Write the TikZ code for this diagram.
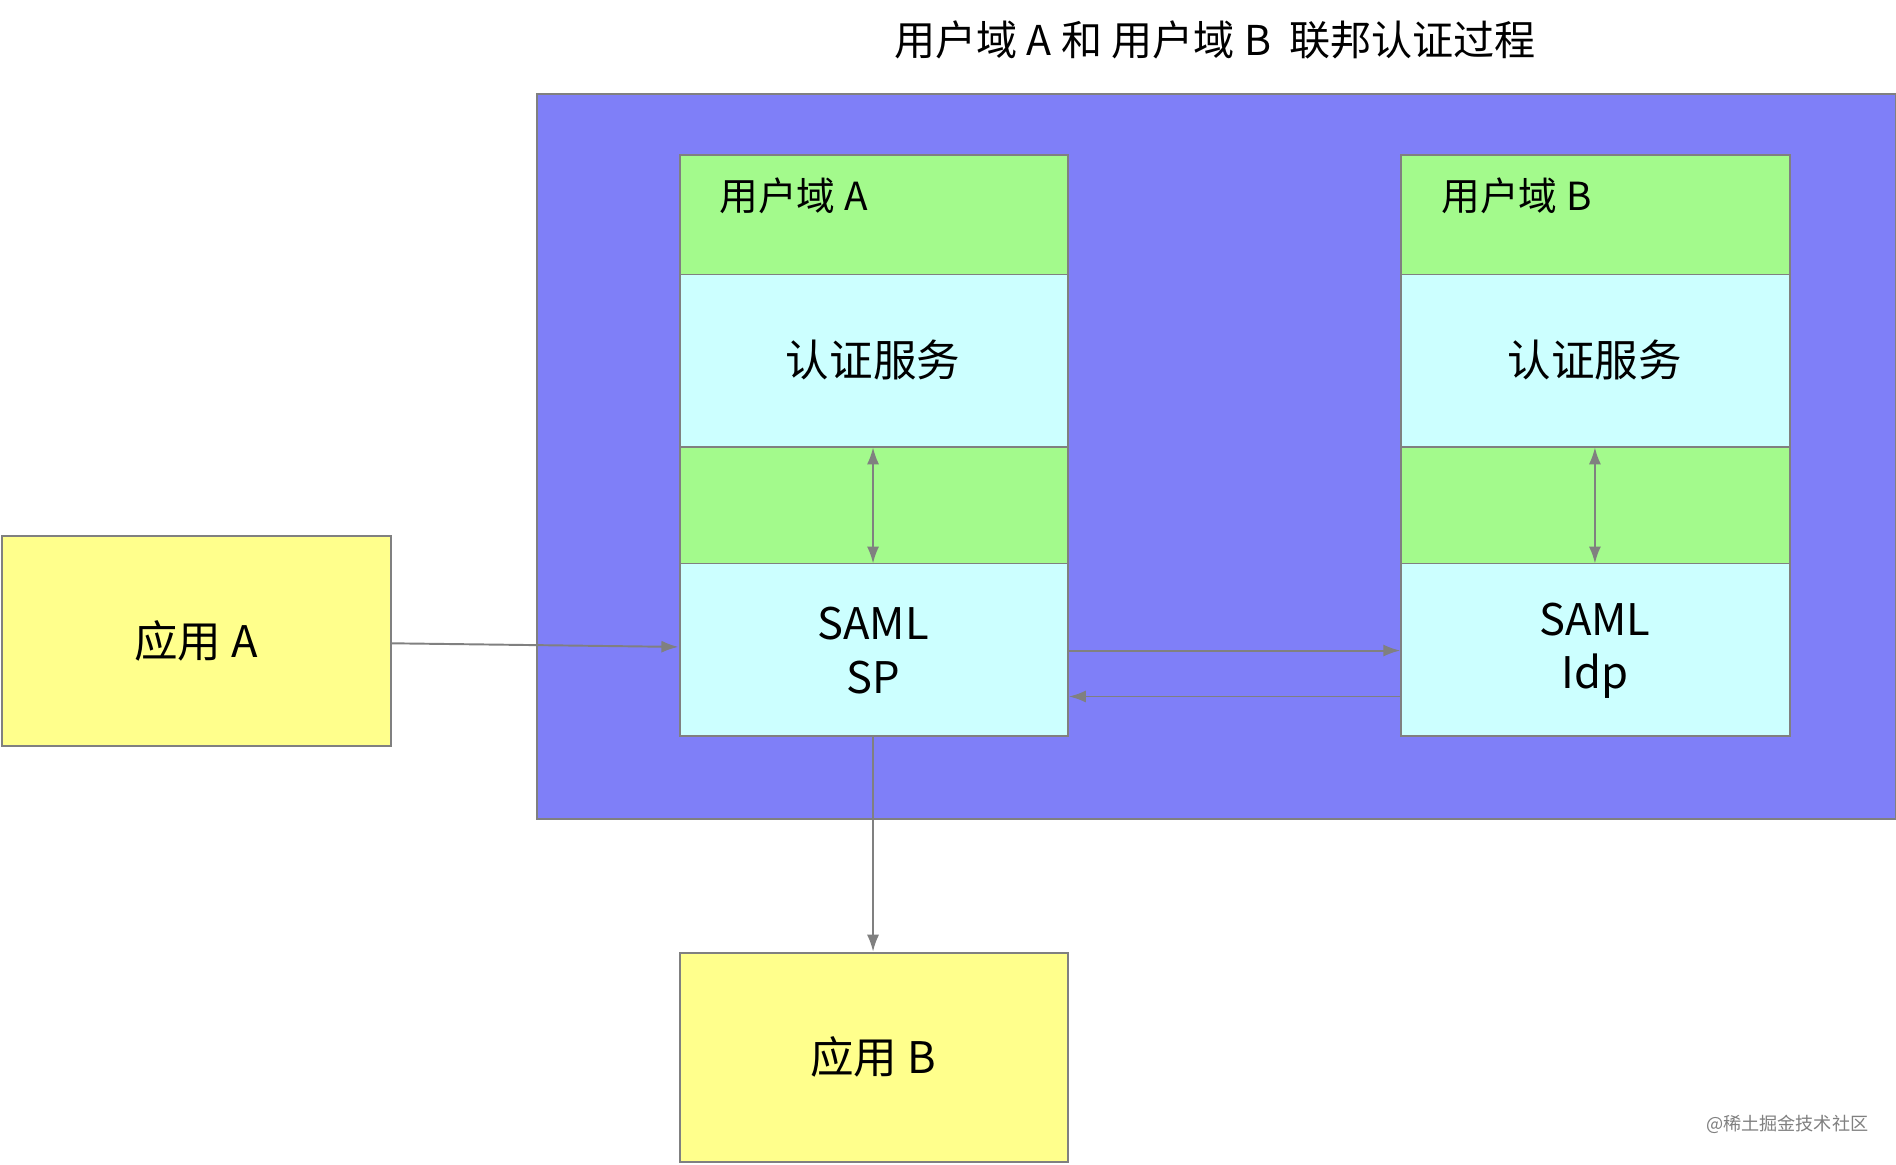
\documentclass[tikz,border=0pt]{standalone}
\usepackage{fontspec}
\setmainfont{Noto Sans CJK SC}
\usetikzlibrary{arrows.meta}
\definecolor{bluebg}{HTML}{7F7FF8}
\definecolor{greenc}{HTML}{A3FA8C}
\definecolor{cyanc}{HTML}{CCFFFF}
\definecolor{yellowc}{HTML}{FFFF8C}
\definecolor{edge}{HTML}{808080}
\tikzset{
  box/.style={draw=edge, line width=0.8pt},
  conn/.style={draw=edge, line width=0.8pt, -{Latex[length=7pt,width=5pt]}},
  lbl/.style={font=\fontsize{18pt}{22pt}\selectfont, align=center}
}
\begin{document}
\begin{tikzpicture}[x=0.5pt,y=-0.5pt]
\useasboundingbox[fill=white] (0,0) rectangle (1568,963);
\node[font=\fontsize{17pt}{20pt}\selectfont] (title) at (1005,33) {用户域 A 和 用户域 B\ \ 联邦认证过程};
\draw[box, fill=bluebg] (444,78) rectangle (1568,677);
% column A
\draw[box, fill=greenc] (562,128) rectangle (883,227);
\draw[box, fill=cyanc] (562,227) rectangle (883,370);
\draw[box, fill=greenc] (562,370) rectangle (883,466);
\draw[box, fill=cyanc] (562,466) rectangle (883,609);
\node[lbl, anchor=west, font=\fontsize{16pt}{20pt}\selectfont] (ha) at (588,162) {用户域 A};
\node[lbl] (authA) at (722,298) {认证服务};
\node[lbl] (sp) at (722,538) {SAML\\SP};
\coordinate (a1) at (722,370); \coordinate (a2) at (722,466);
% column B
\draw[box, fill=greenc] (1159,128) rectangle (1480,227);
\draw[box, fill=cyanc] (1159,227) rectangle (1480,370);
\draw[box, fill=greenc] (1159,370) rectangle (1480,466);
\draw[box, fill=cyanc] (1159,466) rectangle (1480,609);
\node[lbl, anchor=west, font=\fontsize{16pt}{20pt}\selectfont] (hb) at (1185,162) {用户域 B};
\node[lbl] (authB) at (1319,298) {认证服务};
\node[lbl] (idp) at (1319,538) {SAML\\Idp};
\coordinate (b1) at (1319,370); \coordinate (b2) at (1319,466);
% apps
\draw[box, fill=yellowc] (2,443) rectangle (323,617);
\node[lbl] (appA) at (162,530) {应用 A};
\draw[box, fill=yellowc] (562,788) rectangle (883,961);
\node[lbl] (appB) at (722,874) {应用 B};
% connectors
\coordinate (aAr) at (323,532); \coordinate (spL) at (561,535);
\draw[conn] (aAr) -- (spL);
\draw[conn, {Latex[length=7pt,width=5pt]}-{Latex[length=7pt,width=5pt]}] (a1) -- (a2);
\draw[conn, {Latex[length=7pt,width=5pt]}-{Latex[length=7pt,width=5pt]}] (b1) -- (b2);
\coordinate (s1) at (883,538); \coordinate (i1) at (1158,538);
\draw[conn] (s1) -- (i1);
\coordinate (i2) at (1159,576); \coordinate (s2) at (884,576);
\draw[conn] (i2) -- (s2);
\coordinate (spB) at (722,609); \coordinate (abT) at (722,787);
\draw[conn] (spB) -- (abT);
\node[text=gray, font=\fontsize{7.5pt}{9pt}\selectfont] (wm) at (1478,930) {@稀土掘金技术社区};
\end{tikzpicture}
\end{document}
